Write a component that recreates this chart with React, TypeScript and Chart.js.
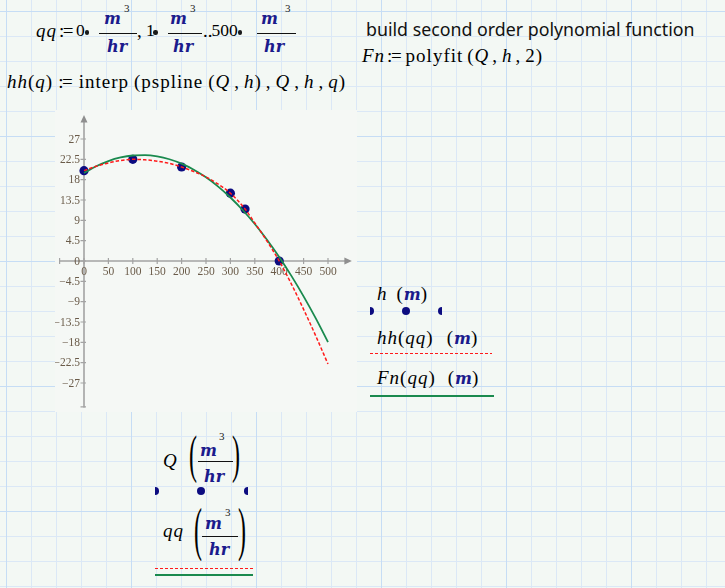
import React, { useEffect, useRef } from "react";
import { Chart, registerables } from "chart.js";

Chart.register(...registerables);

// ---------------- data ----------------
const pumpQ = [0, 100, 200, 300, 330, 400];
const pumpH = [20, 22.5, 20.8, 15, 11.5, 0];

const splineQ = [0, 25, 50, 75, 100, 125, 150, 175, 200, 225, 250, 275, 300, 330, 350, 375, 400, 425, 450, 475, 500];
const splineH = [20, 20.95, 21.7, 22.25, 22.5, 22.4, 22.1, 21.6, 20.8, 19.8, 18.6, 17.0, 15.0, 11.5, 8.4, 4.4, 0, -5.1, -10.7, -16.6, -22.8];

const fitQ = [0, 25, 50, 75, 100, 125, 150, 175, 200, 225, 250, 275, 300, 325, 350, 375, 400, 425, 450, 475, 500];
const fitH = [19.47, 20.97, 22.12, 22.91, 23.35, 23.43, 23.15, 22.52, 21.54, 20.2, 18.51, 16.46, 14.05, 11.29, 8.18, 4.71, 0.89, -3.29, -7.82, -12.71, -17.95];

const xTicks = [-50, 0, 50, 100, 150, 200, 250, 300, 350, 400, 450, 500];
const xTickLabels = ["", "0", "50", "100", "150", "200", "250", "300", "350", "400", "450", "500"];
const yTicks = [27, 22.5, 18, 13.5, 9, 4.5, 0, -4.5, -9, -13.5, -18, -22.5, -27];
const yTickLabels = ["27", "22.5", "18", "13.5", "9", "4.5", "0", "−4.5", "−9", "−13.5", "−18", "−22.5", "−27"];
const xRange = [-50, 550];
const yRange = [-32.4, 32.4];

// ---------------- styles ----------------
const SERIF = "'Liberation Serif', 'Times New Roman', serif";
const USERIF = "'DejaVu Serif', serif";
const SANS = "'Noto Sans', 'Open Sans', sans-serif";
const NAVY = "#1b1b8c";
const PT = "#0c0c80";
const GREEN = "#1a8a4e";
const RED = "#ff1a1a";
const AXIS = "#a3a3a3";
const LABEL = "#6a5b49";
const SZ = 19;
const ASC = 0.8375;
const UASC = 0.846;
const USZ = 16;

const axesPlugin = {
  id: "mcAxes",
  beforeDatasetsDraw(chart: any) {
    const { ctx } = chart;
    const xs = chart.scales.x;
    const ys = chart.scales.y;
    const x0 = xs.getPixelForValue(0);
    const y0 = ys.getPixelForValue(0);
    const left = xs.getPixelForValue(xRange[0]);
    const right = xs.getPixelForValue(xRange[1]);
    const top = ys.getPixelForValue(yRange[1]);
    const bottom = ys.getPixelForValue(yRange[0]);
    ctx.save();
    ctx.strokeStyle = AXIS;
    ctx.fillStyle = "#8f8f8f";
    ctx.lineWidth = 1.6;
    ctx.beginPath();
    ctx.moveTo(left, y0);
    ctx.lineTo(right - 5, y0);
    ctx.moveTo(x0, top + 5);
    ctx.lineTo(x0, bottom);
    ctx.stroke();
    // arrows
    ctx.beginPath();
    ctx.moveTo(right - 0.5, y0);
    ctx.lineTo(right - 8, y0 - 3.5);
    ctx.lineTo(right - 8, y0 + 3.5);
    ctx.closePath();
    ctx.fill();
    ctx.beginPath();
    ctx.moveTo(x0, top + 0.5);
    ctx.lineTo(x0 - 3.5, top + 8);
    ctx.lineTo(x0 + 3.5, top + 8);
    ctx.closePath();
    ctx.fill();
    // ticks
    ctx.lineWidth = 1.2;
    ctx.beginPath();
    xTicks.forEach((v) => {
      const px = xs.getPixelForValue(v);
      ctx.moveTo(px, y0 - 3);
      ctx.lineTo(px, y0 + 3);
    });
    yTicks.forEach((v) => {
      const py = ys.getPixelForValue(v);
      ctx.moveTo(x0 - 3.5, py);
      ctx.lineTo(x0 + 2, py);
    });
    ctx.moveTo(x0 - 3.5, bottom - 0.5);
    ctx.lineTo(x0 + 2, bottom - 0.5);
    ctx.stroke();
    // labels
    ctx.fillStyle = LABEL;
    ctx.font = `11.5px ${SERIF}`;
    ctx.textAlign = "center";
    ctx.textBaseline = "top";
    xTicks.forEach((v, i) => {
      if (!xTickLabels[i]) return;
      ctx.fillText(xTickLabels[i], xs.getPixelForValue(v), y0 + 5);
    });
    ctx.textAlign = "right";
    ctx.textBaseline = "middle";
    yTicks.forEach((v, i) => {
      ctx.fillText(yTickLabels[i], x0 - 4, ys.getPixelForValue(v) + 0.5);
    });
    ctx.restore();
  },
};

function ChartBox() {
  const ref = useRef<HTMLCanvasElement>(null);
  useEffect(() => {
    if (!ref.current) return;
    const chart = new Chart(ref.current, {
      type: "scatter",
      data: {
        datasets: [
          {
            label: "h",
            data: pumpQ.map((q, i) => ({ x: q, y: pumpH[i] })),
            showLine: false,
            pointRadius: 4.6,
            pointBackgroundColor: PT,
            pointBorderColor: PT,
            pointBorderWidth: 0,
            order: 3,
          },
          {
            label: "Fn(qq)",
            data: fitQ.map((q, i) => ({ x: q, y: fitH[i] })),
            showLine: true,
            borderColor: GREEN,
            borderWidth: 1.8,
            pointRadius: 0,
            cubicInterpolationMode: "monotone",
            order: 2,
          },
          {
            label: "hh(qq)",
            data: splineQ.map((q, i) => ({ x: q, y: splineH[i] })),
            showLine: true,
            borderColor: RED,
            borderWidth: 1.5,
            borderDash: [3.5, 2],
            pointRadius: 0,
            cubicInterpolationMode: "monotone",
            order: 1,
          },
        ],
      },
      options: {
        animation: false,
        responsive: true,
        maintainAspectRatio: false,
        events: [],
        layout: { padding: 0 },
        plugins: { legend: { display: false }, tooltip: { enabled: false } },
        scales: {
          x: { type: "linear", min: xRange[0], max: xRange[1], display: false },
          y: { type: "linear", min: yRange[0], max: yRange[1], display: false },
        },
      },
      plugins: [axesPlugin],
    } as any);
    return () => chart.destroy();
  }, []);
  return (
    <div style={{ position: "absolute", left: 55, top: 110, width: 302, height: 302, background: "#f5f8f5" }}>
      <canvas ref={ref} />
    </div>
  );
}

// ---------------- text helpers ----------------
function Tx({ x, b, size = SZ, it = false, bold = false, color = "#000", ls = 0, ff = SERIF, asc = ASC, children }: any) {
  return (
    <span
      style={{
        position: "absolute",
        left: x,
        top: b - asc * size,
        fontSize: size,
        lineHeight: `${size}px`,
        fontFamily: ff,
        fontStyle: it ? "italic" : "normal",
        fontWeight: bold ? 700 : 400,
        color,
        whiteSpace: "pre",
        letterSpacing: ls,
      }}
    >
      {children}
    </span>
  );
}

function Row({ x, b, size = SZ, ls = 1, children }: any) {
  return (
    <div
      style={{
        position: "absolute",
        left: x,
        top: b - ASC * size,
        fontSize: size,
        lineHeight: `${size}px`,
        fontFamily: SERIF,
        whiteSpace: "pre",
        color: "#000",
        letterSpacing: ls,
      }}
    >
      {children}
    </div>
  );
}

const G = ({ w = 4 }: any) => <span style={{ display: "inline-block", width: w }} />;
const U = ({ children }: any) => (
  <span style={{ fontStyle: "italic", fontWeight: 700, color: NAVY, fontFamily: USERIF, fontSize: USZ, letterSpacing: 0 }}>
    {children}
  </span>
);
const Def = () => (
  <span>
    <span style={{ letterSpacing: -1.5 }}>:</span>=
  </span>
);

function Bar({ x1, x2, y }: any) {
  return <div style={{ position: "absolute", left: x1, top: y - 0.5, width: x2 - x1, height: 1, background: "#111" }} />;
}

function MDot({ x, y }: any) {
  return <div style={{ position: "absolute", left: x - 2.2, top: y - 2.2, width: 4.4, height: 4.4, borderRadius: "50%", background: "#1a1a1a" }} />;
}

function Unit({ mx, mb, tx, tb, hx, hb, bx1, bx2, by }: any) {
  return (
    <>
      <Tx x={mx} b={mb} size={USZ} ff={USERIF} asc={UASC} it bold color={NAVY}>m</Tx>
      <Tx x={tx} b={tb} size={11} color="#222">3</Tx>
      <Bar x1={bx1} x2={bx2} y={by} />
      <Tx x={hx} b={hb} size={USZ} ff={USERIF} asc={UASC} it bold color={NAVY}>hr</Tx>
    </>
  );
}

function Paren({ x, y0, h, ch }: any) {
  const size = 24;
  const k = h / 21.8;
  return (
    <span
      style={{
        position: "absolute",
        left: x,
        top: y0 - 3.4 * k,
        fontSize: size,
        lineHeight: `${size}px`,
        fontFamily: SERIF,
        transform: `scaleY(${k})`,
        transformOrigin: "0 0",
        color: "#000",
      }}
    >
      {ch}
    </span>
  );
}

function Dot({ cx, cy, r = 4, clip }: any) {
  const left = clip === "left" ? cx : cx - r;
  const width = clip ? r : 2 * r;
  return (
    <div style={{ position: "absolute", left, top: cy - r, width, height: 2 * r, overflow: "hidden" }}>
      <div
        style={{
          position: "absolute",
          left: clip === "left" ? -r : 0,
          top: 0,
          width: 2 * r,
          height: 2 * r,
          borderRadius: "50%",
          background: PT,
        }}
      />
    </div>
  );
}

function DashLine({ x1, x2, y }: any) {
  return (
    <div
      style={{
        position: "absolute",
        left: x1,
        top: y - 0.75,
        width: x2 - x1,
        height: 1.5,
        background: `repeating-linear-gradient(to right, ${RED} 0 3px, transparent 3px 5px)`,
      }}
    />
  );
}

function SolidLine({ x1, x2, y }: any) {
  return <div style={{ position: "absolute", left: x1, top: y - 0.9, width: x2 - x1, height: 1.8, background: GREEN }} />;
}

// ---------------- app ----------------
export default function App() {
  const grid = {
    backgroundColor: "#f3f8f4",
    backgroundImage: [
      "linear-gradient(to right, #c6ddf5 0 1.5px, transparent 1.5px)",
      "linear-gradient(to bottom, #c6ddf5 0 1.5px, transparent 1.5px)",
      "linear-gradient(to right, #dbe8f6 0 1.5px, transparent 1.5px)",
      "linear-gradient(to bottom, #dbe8f6 0 1.5px, transparent 1.5px)",
    ].join(","),
    backgroundSize: "125px 125px, 125px 125px, 25px 25px, 25px 25px",
    backgroundPosition: "6px 0, 0 11px, 6px 0, 0 11px",
  };
  return (
    <div style={{ position: "absolute", left: 0, top: 0, width: 725, height: 588, overflow: "hidden", ...grid }}>
      {/* qq := 0·m3/hr, 1·m3/hr .. 500·m3/hr */}
      <Tx x={36} b={37} it ls={1}>qq</Tx>
      <Tx x={59} b={37}><Def /></Tx>
      <Tx x={76} b={37} size={17.5}>0</Tx>
      <MDot x={87} y={32.5} />
      <Unit mx={104} mb={25} tx={124} tb={12.5} hx={107} hb={53} bx1={99} bx2={137} by={33} />
      <Tx x={137} b={37}>,</Tx>
      <Tx x={146} b={37} size={17.5}>1</Tx>
      <MDot x={155.5} y={32.5} />
      <Unit mx={170} mb={25} tx={190} tb={12.5} hx={173} hb={53} bx1={168} bx2={202} by={33} />
      <Tx x={203} b={37}>..</Tx>
      <Tx x={211.5} b={37} size={17.5}>500</Tx>
      <MDot x={240} y={32.5} />
      <Unit mx={261} mb={25} tx={285} tb={12.5} hx={264} hb={53} bx1={256.5} bx2={296} by={33} />

      {/* hh(q) := interp(pspline(Q,h),Q,h,q) */}
      <Row x={7} b={88}>
        <i>hh</i>(<i>q</i>)<G w={5} /><Def /><G w={5} />interp<G w={5} />(pspline<G w={5} />(<i>Q</i><G />,<G /><i>h</i>)<G />,<G />
        <i>Q</i><G />,<G /><i>h</i><G />,<G /><i>q</i>)
      </Row>

      {/* text region */}
      <Tx x={366} b={36.5} size={17.8} ff={SANS} asc={0.888} color="#111">build second order polynomial function</Tx>
      <Row x={362} b={62}>
        <i>Fn</i><G w={2} /><Def /><G w={3} />polyfit<G w={4} />(<i>Q</i><G w={3} />,<G w={4} /><i>h</i><G w={3} />,<G w={4} />2)
      </Row>

      <ChartBox />

      {/* right legend */}
      <Row x={377} b={300}>
        <i>h</i><G w={9} />(<U>m</U>)
      </Row>
      <Dot cx={370} cy={311} r={4} clip="left" />
      <Dot cx={405.5} cy={311} r={4} />
      <Dot cx={442} cy={311} r={4} clip="right" />
      <Row x={377} b={344}>
        <i>hh</i>(<i>qq</i>)<G w={13} />(<U>m</U>)
      </Row>
      <DashLine x1={370} x2={492} y={353.3} />
      <Row x={377} b={384}>
        <i>Fn</i>(<i>qq</i>)<G w={12} />(<U>m</U>)
      </Row>
      <SolidLine x1={370} x2={494} y={395.7} />

      {/* bottom legend */}
      <Tx x={163} b={467} it>Q</Tx>
      <Paren x={189} y0={435} h={48} ch="(" />
      <Unit mx={200} mb={456.5} tx={219} tb={440} hx={204} hb={482.5} bx1={197.5} bx2={232.5} by={461.7} />
      <Paren x={232} y0={435} h={48} ch=")" />
      <Dot cx={155} cy={491} r={3.8} clip="left" />
      <Dot cx={201} cy={491} r={4} />
      <Dot cx={248} cy={491} r={3.8} clip="right" />

      <Tx x={163} b={537} it ls={1}>qq</Tx>
      <Paren x={194} y0={508.5} h={53} ch="(" />
      <Unit mx={205} mb={530} tx={225} tb={516.5} hx={209} hb={556} bx1={201.5} bx2={237.5} by={536.7} />
      <Paren x={238} y0={508.5} h={53} ch=")" />
      <DashLine x1={155} x2={253} y={568.3} />
      <SolidLine x1={155} x2={253} y={575} />
    </div>
  );
}
